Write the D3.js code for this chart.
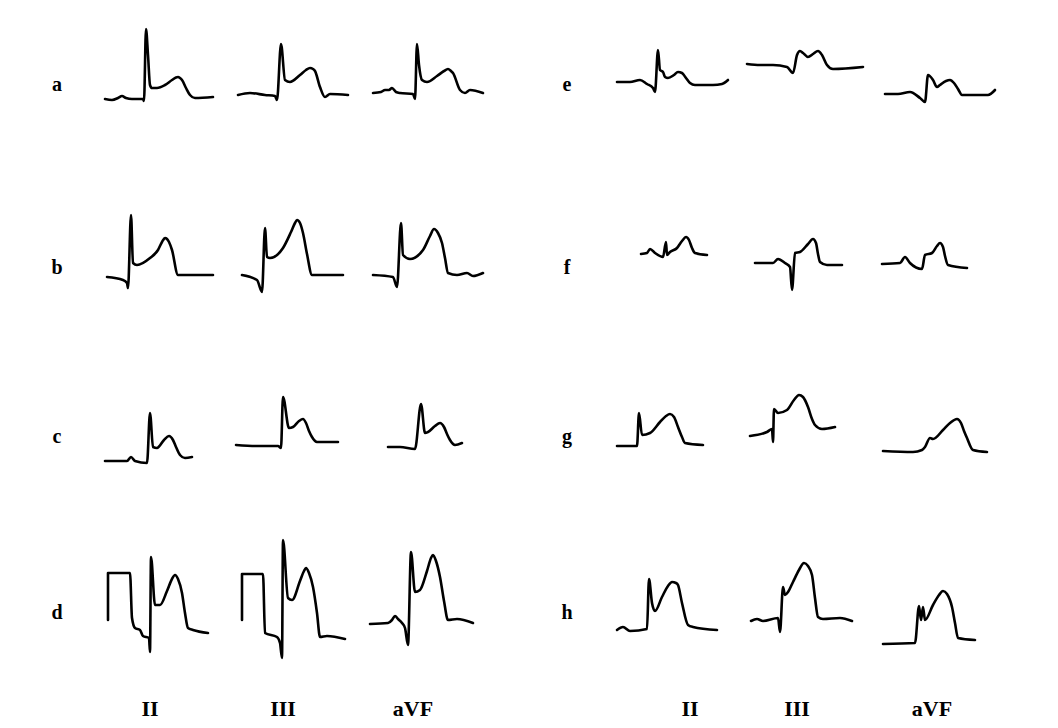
<!DOCTYPE html>
<html>
<head>
<meta charset="utf-8">
<script src="https://cdn.jsdelivr.net/npm/d3@7"></script>
<style>
  body { margin: 0; background: #fff; }
  svg { display: block; }
</style>
</head>
<body>
<svg id="chart" width="1058" height="728"></svg>
<script>
// panel labels
const rowsLeft = ["a", "b", "c", "d"]
const rowsRight = ["e", "f", "g", "h"]
const leads = ["II", "III", "aVF"]

// traces: [time, amplitude] pairs (arbitrary units)
const a_II  = [[5,-14],[12,-15],[18,-13],[22,-11],[26,-13],[32,-14],[43,-14],[44,-16],[46,56],[48,30],[50,0],[52,-3],[57,-3],[65,0],[72,5],[76,7.5],[78,8],[80,7],[82,5],[86,-3],[90,-10],[95,-13],[113,-12]]
const a_III = [[3,-10],[15,-8],[30,-10],[40,-11],[42,-15],[46,41],[50,5],[55,3],[65,10],[71,15],[75,17],[78,16],[80,14],[85,-2],[90,-12],[95,-9],[113,-10]]
const a_aVF = [[8,-8],[16,-7],[20,-5],[24,-5],[27,-3],[31,-7],[35,-8],[48,-9],[50,-14],[52,41],[54,20],[57,5],[62,3],[72,9],[79,14],[83,16],[86,14],[88,12],[95,-5],[100,-8],[105,-5],[118,-8]]

const b_II  = [[7,-9],[23,-12],[27,-15],[28,-20],[31,53],[33,5],[37,3],[50,10],[58,18],[62,26],[65,30],[67,29],[69,26],[72,18],[78,-7],[113,-7]]
const b_III = [[7,-7],[22,-12],[27,-24],[30,40],[32,11],[35,10],[48,20],[56,36],[60,45],[62,48],[65,45],[68,35],[72,14],[77,-7],[108,-7]]
const b_aVF = [[8,-7],[28,-9],[32,-19],[36,45],[38,13],[45,9],[58,18],[65,32],[69,39],[73,35],[77,25],[80,10],[83,-5],[92,-7],[102,-5],[108,-8],[118,-5]]

const c_II  = [[5,-24],[27,-24],[31,-20],[35,-24],[47,-26],[50,24],[53,-10],[57,-11],[64,-3],[69,1],[73,-3],[76,-10],[80,-18],[85,-21],[92,-20]]
const c_III = [[1,-8],[22,-9],[43,-9],[46,-11],[48,40],[54,9],[58,10],[64,16],[68,18],[71,14],[74,6],[77,0],[82,-5],[103,-5]]
const c_aVF = [[23,-10],[35,-10],[50,-12],[56,33],[60,4],[63,5],[70,11],[75,14],[79,10],[82,3],[85,-3],[90,-8],[97,-6]]

const d_II  = [[8,-7],[8,40],[30,40],[32,-5],[35,-15],[40,-17],[43,-23],[49,-25],[50,-39],[51,56],[55,8],[60,8],[67,22],[72,34],[75,38],[78,34],[82,20],[85,0],[88,-15],[93,-17],[108,-20]]
const d_III = [[7,-7],[7,39],[28,39],[30,-20],[42,-24],[45,-30],[47,-45],[48,73],[53,15],[57,13],[65,32],[69,42],[71,45],[74,40],[78,26],[82,0],[85,-24],[92,-23],[110,-26]]
const d_aVF = [[5,-11],[23,-10],[27,-7],[30,-3],[33,-6],[37,-10],[40,-15],[43,-32],[46,61],[50,21],[55,23],[62,42],[66,55],[68,58],[71,52],[75,36],[79,12],[83,-7],[92,-6],[108,-10]]

const e_II  = [[5,3],[18,3],[28,5],[35,1],[41,-3],[43,-7],[46,35],[48,15],[51,13],[53,8],[56,7],[62,10],[66,13],[70,12],[74,7],[78,2],[83,0],[101,0],[110,1],[116,5]]
const e_III = [[5,21],[18,20],[31,20],[45,18],[51,12],[55,30],[58,34],[61,32],[66,28],[71,31],[76,34],[80,30],[85,20],[91,16],[121,18]]
const e_aVF = [[7,-9],[20,-9],[32,-7],[42,-13],[47,-17],[50,10],[55,5],[59,-2],[62,0],[68,4],[72,5],[76,2],[80,-4],[84,-10],[89,-10],[110,-10],[117,-5]]

const f_II  = [[29,14],[35,15],[38,19],[43,15],[51,11],[54,26],[55,13],[58,16],[65,20],[70,27],[74,31],[77,28],[80,20],[83,15],[95,13]]
const f_III = [[13,5],[31,5],[36,9],[43,5],[48,1],[50,-22],[53,15],[58,16],[66,24],[71,29],[74,25],[76,14],[78,6],[85,3],[100,3]]
const f_aVF = [[4,4],[22,5],[27,11],[32,5],[44,-1],[47,13],[54,15],[59,22],[62,25],[65,21],[67,12],[70,3],[89,0]]

const g_II  = [[5,-9],[25,-9],[27,24],[30,2],[38,4],[48,15],[54,21],[58,23],[62,20],[66,10],[70,0],[73,-6],[91,-8]]
const g_III = [[8,1],[25,5],[30,8],[31,-5],[32,28],[36,24],[45,27],[52,37],[57,42],[61,40],[66,30],[70,18],[73,12],[80,8],[93,10]]
const g_aVF = [[5,-14],[35,-15],[44,-13],[47,-10],[52,-1],[55,-2],[65,7],[72,14],[79,18],[83,14],[86,6],[89,-1],[95,-13],[109,-15]]

const h_II  = [[5,-17],[11,-14],[18,-18],[35,-16],[37,34],[40,10],[43,2],[50,16],[56,27],[60,31],[64,30],[66,28],[70,10],[76,-12],[81,-14],[105,-17]]
const h_III = [[9,-8],[15,-6],[21,-8],[36,-5],[38,-19],[41,26],[43,18],[46,21],[51,31],[57,43],[62,50],[66,47],[70,38],[73,15],[76,-4],[81,-6],[98,-5],[110,-8]]
const h_aVF = [[5,-31],[37,-30],[41,7],[43,-7],[45,6],[47,-7],[55,8],[61,18],[65,22],[69,19],[74,6],[77,-10],[80,-25],[97,-27]]

const traces = {
    a: [a_II, a_III, a_aVF], b: [b_II, b_III, b_aVF],
    c: [c_II, c_III, c_aVF], d: [d_II, d_III, d_aVF],
    e: [e_II, e_III, e_aVF], f: [f_II, f_III, f_aVF],
    g: [g_II, g_III, g_aVF], h: [h_II, h_III, h_aVF]
}

// layout (pixels)
const rowY = [85, 268, 437, 613]
const groups = [
    {rows: rowsLeft, labelX: 57, colX: [100, 235, 365], leadX: [150, 283, 413]},
    {rows: rowsRight, labelX: 567, colX: [612, 742, 878], leadX: [690, 797, 932]}
]

const svg = d3.select("#chart")
const serif = "'Liberation Serif', 'Times New Roman', serif"

groups.forEach(grp => {
    const yRow = d3.scaleOrdinal().domain(grp.rows).range(rowY)

    grp.rows.forEach(r => {
        svg.append("text")
            .attr("x", grp.labelX)
            .attr("y", yRow(r))
            .attr("dy", "0.32em")
            .attr("text-anchor", "middle")
            .attr("font-family", serif)
            .attr("font-weight", "bold")
            .attr("font-size", "20px")
            .text(r)

        traces[r].forEach((pts, i) => {
            const x = d3.scaleLinear().domain([0, 120]).range([grp.colX[i], grp.colX[i] + 120])
            const y = d3.scaleLinear().domain([-60, 80]).range([yRow(r) + 60, yRow(r) - 80])
            // monotone keeps the tracing smooth without overshooting the spikes
            const line = d3.line()
                .x(d => x(d[0]))
                .y(d => y(d[1]))
                .curve(d3.curveMonotoneX)
            svg.append("path")
                .datum(pts)
                .attr("d", line)
                .attr("fill", "none")
                .attr("stroke", "#000")
                .attr("stroke-width", 2.6)
                .attr("stroke-linejoin", "round")
                .attr("stroke-linecap", "round")
        })
    })

    leads.forEach((l, i) => {
        svg.append("text")
            .attr("x", grp.leadX[i])
            .attr("y", 716)
            .attr("text-anchor", "middle")
            .attr("font-family", serif)
            .attr("font-weight", "bold")
            .attr("font-size", "22px")
            .text(l)
    })
})
</script>
</body>
</html>
